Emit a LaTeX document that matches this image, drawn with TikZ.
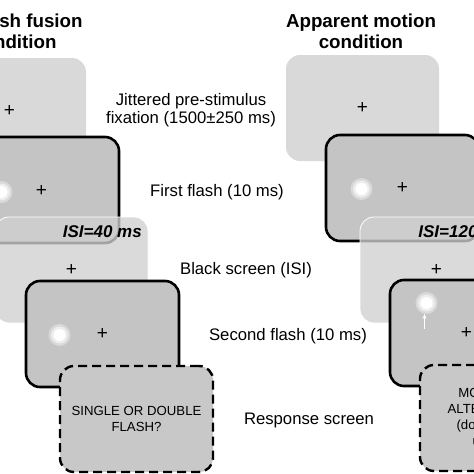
\documentclass[tikz,border=0pt]{standalone}
\usepackage{fontspec}
\setsansfont{Liberation Sans}
\usetikzlibrary{arrows.meta}
\definecolor{fixgray}{gray}{0.85}
\definecolor{flashgray}{gray}{0.77}
\definecolor{isigray}{gray}{0.815}
\definecolor{respgray}{gray}{0.785}
\begin{document}
\begin{tikzpicture}[x=1pt, y=-1pt, font=\sffamily,
    box/.style={rectangle, rounded corners=14pt, minimum width=153pt, minimum height=106pt, outer sep=0pt, inner sep=0pt, anchor=north west},
    fixbox/.style={box, fill=fixgray},
    flashbox/.style={box, fill=flashgray, draw=black, line width=2.6pt},
    isibox/.style={box, fill=isigray, fill opacity=0.78, draw=white, line width=0.8pt},
    respbox/.style={box, fill=respgray, draw=black, line width=2.4pt, dash pattern=on 9pt off 5pt, align=center, font=\sffamily\fontsize{13.2}{16}\selectfont},
    lbl/.style={inner sep=0pt, align=center, font=\sffamily\fontsize{16.7}{18.5}\selectfont},
    hdr/.style={inner sep=0pt, align=center, font=\sffamily\bfseries\fontsize{18.75}{21}\selectfont},
    isilbl/.style={inner sep=0pt, anchor=east, font=\sffamily\bfseries\itshape\fontsize{17}{19}\selectfont},
    cross/.style={inner sep=0pt, font=\sffamily\fontsize{19}{20}\selectfont},
    halo/.style={circle, fill=white!35!flashgray, minimum size=22pt, inner sep=0pt},
    glow/.style={circle, fill=white!70!flashgray, minimum size=17pt, inner sep=0pt},
    spot/.style={circle, fill=white, minimum size=12pt, inner sep=0pt}]
    \useasboundingbox (0,0) rectangle (474,474);
    \clip (0,0) rectangle (474,474);

    % flash fusion condition
    \node[fixbox] (ffix) at (-67,58) {};
    \node[cross] (ffixplus) at (ffix.center) {+};
    \node[flashbox] (ffirst) at (-34,137) {};
    \node[halo] (ffirsthalo) at ([shift={(-41,2)}]ffirst.center) {};
    \node[glow] (ffirstglow) at (ffirsthalo) {};
    \node[spot] (ffirstspot) at (ffirsthalo) {};
    \node[cross] (ffirstplus) at ([shift={(-1,1)}]ffirst.center) {+};
    \node[isibox] (fisi) at (-5,217) {};
    \node[cross] (fisiplus) at (fisi.center) {+};
    \node[isilbl] (fisitext) at (142,232) {ISI=40 ms};
    \node[flashbox] (fsecond) at (26,281) {};
    \node[halo] (fsecondhalo) at ([shift={(-43,1)}]fsecond.center) {};
    \node[glow] (fsecondglow) at (fsecondhalo) {};
    \node[spot] (fsecondspot) at (fsecondhalo) {};
    \node[cross] (fsecondplus) at (fsecond.center) {+};
    \node[respbox] (fresp) at (60,366) {SINGLE OR DOUBLE\\FLASH?};

    % apparent motion condition
    \node[fixbox] (afix) at (286,55) {};
    \node[cross] (afixplus) at (afix.center) {+};
    \node[flashbox] (afirst) at (326,135) {};
    \node[halo] (afirsthalo) at ([shift={(-41,1)}]afirst.center) {};
    \node[glow] (afirstglow) at (afirsthalo) {};
    \node[spot] (afirstspot) at (afirsthalo) {};
    \node[cross] (afirstplus) at (afirst.center) {+};
    \node[isibox] (aisi) at (360,217) {};
    \node[cross] (aisiplus) at (aisi.center) {+};
    \node[isilbl] (aisitext) at (507,232) {ISI=120 ms};
    \node[flashbox] (asecond) at (390,280) {};
    \node[halo] (asecondhalo) at ([shift={(-40,-30)}]asecond.center) {};
    \node[glow] (asecondglow) at (asecondhalo) {};
    \node[spot] (asecondspot) at (asecondhalo) {};
    \coordinate (aarrowtail) at ([shift={(-42,-4)}]asecond.center);
    \coordinate (aarrowhead) at ([shift={(-42,-19)}]asecond.center);
    \draw[white, line width=1.6pt, -{Stealth[length=5pt, width=4pt]}] (aarrowtail) -- (aarrowhead);
    \node[cross] (asecondplus) at (asecond.center) {+};
    \node[respbox] (aresp) at (420,365) {MOTION OR\\ALTERNATION?\\(downward or\\upward)};

    % event labels
    \node[lbl] (tfix) at (191,110) {Jittered pre-stimulus\\fixation (1500±250 ms)};
    \node[lbl] (tfirst) at (217,192) {First flash (10 ms)};
    \node[lbl] (tblack) at (246,270) {Black screen (ISI)};
    \node[lbl] (tsecond) at (288,336) {Second flash (10 ms)};
    \node[lbl] (tresp) at (309,420) {Response screen};

    % headers
    \node[hdr, align=left, anchor=west] (fhead) at (-28,31) {Flash fusion\\condition};
    \node[hdr] (ahead) at (361,31) {Apparent motion\\condition};
\end{tikzpicture}
\end{document}
